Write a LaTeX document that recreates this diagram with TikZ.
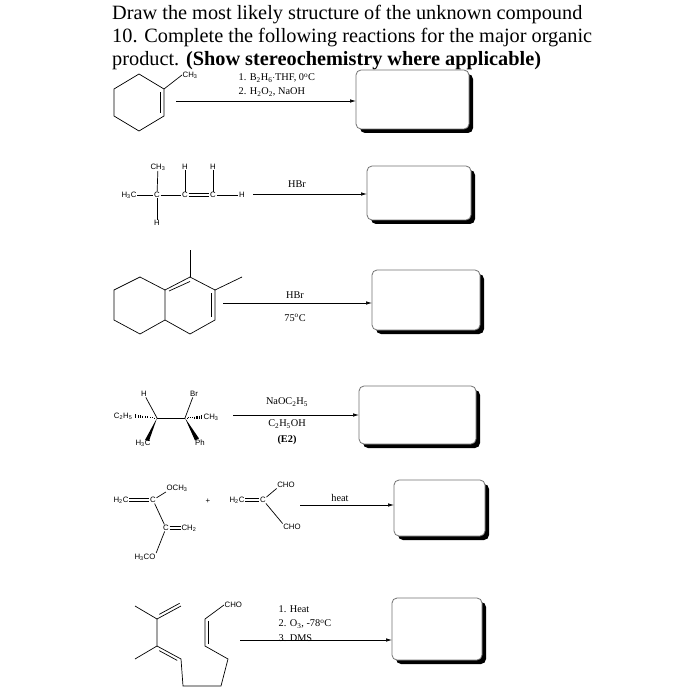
\documentclass[tikz,border=0pt]{standalone}
\usepackage{fontspec}
\setmainfont{Liberation Serif}
\setsansfont{Liberation Sans}
\usetikzlibrary{arrows.meta,calc}
\begin{document}
\begin{tikzpicture}[x=1pt,y=-1pt,
  bond/.style={line width=0.7pt},
  rxn/.style={line width=0.7pt,-{Latex[length=6pt,width=3.5pt]}},
  lab/.style={font=\sffamily\fontsize{7.8}{9}\selectfont,inner sep=0.5pt},
  reag/.style={font=\fontsize{10.3}{12}\selectfont,inner sep=0.5pt},
  ttl/.style={font=\fontsize{20.3}{23}\selectfont,anchor=base west,inner sep=0}]
\useasboundingbox (0,0) rectangle (682,700);
\fill[white] (0,0) rectangle (682,700);
\newcommand{\ansbox}[5]{%
  \fill[black,rounded corners=5pt] (#1+4,#2+4) rectangle (#3+4,#4+4);
  \draw[fill=white,draw=black!55,line width=0.8pt,rounded corners=5pt] (#1,#2) rectangle (#3,#4);
  \coordinate (#5) at (#1,{(#2+#4)/2});}
% title
\node[ttl] (t1) at (112,20) {Draw the most likely structure of the unknown compound};
\node[ttl] (t2) at (112,43) {10. Complete the following reactions for the major organic};
\node[ttl] (t3) at (112,66) {product. \textbf{(Show stereochemistry where applicable)}};
% boxes
\ansbox{356}{70}{469}{129}{b1}
\ansbox{367}{166}{471}{220}{b2}
\ansbox{372}{270}{480}{330}{b3}
\ansbox{359}{386}{476}{444}{b4}
\ansbox{394}{480}{485}{536}{b5}
\ansbox{392}{598}{482}{660}{b6}
% ---- reaction 1
\coordinate (r1a) at (139,74); \coordinate (r1b) at (164,89); \coordinate (r1c) at (164,116);
\coordinate (r1d) at (139,131); \coordinate (r1e) at (114,116); \coordinate (r1f) at (114,89);
\draw[bond] (r1a)--(r1b)--(r1c)--(r1d)--(r1e)--(r1f)--cycle;
\draw[bond] ($(r1b)+(-4,3)$)--($(r1c)+(-4,-3)$);
\node[lab,anchor=west] (m1) at (182,75) {CH\textsubscript{3}};
\draw[bond] (r1b)--(m1.west);
\coordinate (a1s) at (176,101);
\draw[rxn] (a1s)--(a1s-|b1);
\node[reag,anchor=west] (g1) at (238,78) {1. B\textsubscript{2}H\textsubscript{6}$\cdot$THF, 0\textsuperscript{o}C};
\node[reag,anchor=west] (g2) at (238,92) {2. H\textsubscript{2}O\textsubscript{2}, NaOH};
% ---- reaction 2
\node[lab] (h3c2) at (129,195) {H\textsubscript{3}C};
\node[lab] (c21) at (157,195) {C};
\node[lab] (c22) at (185,195) {C};
\node[lab] (c23) at (213,195) {C};
\node[lab] (h24) at (242,195) {H};
\node[lab] (m21) at (158,167) {CH\textsubscript{3}};
\node[lab] (h21) at (185,167) {H};
\node[lab] (h22) at (213,167) {H};
\node[lab] (h23) at (157,223) {H};
\draw[bond] (h3c2)--(c21)--(c22);
\draw[bond] ([yshift=1.5]c22.east)--([yshift=1.5]c23.west);
\draw[bond] ([yshift=-1.5]c22.east)--([yshift=-1.5]c23.west);
\draw[bond] (c23)--(h24);
\draw[bond] (c21)--(m21); \draw[bond] (c22)--(h21); \draw[bond] (c23)--(h22); \draw[bond] (c21)--(h23);
\coordinate (a2s) at (253,194);
\draw[rxn] (a2s)--(a2s-|b2);
\node[reag] (g3) at (297,184) {HBr};
% ---- reaction 3
\coordinate (p1) at (114,290); \coordinate (p2) at (140,277); \coordinate (p3) at (165,290);
\coordinate (p4) at (165,320); \coordinate (p5) at (140,334); \coordinate (p6) at (114,320);
\coordinate (q2) at (190,277); \coordinate (q3) at (215,290); \coordinate (q4) at (215,320);
\coordinate (q5) at (190,334); \coordinate (qm1) at (190,250); \coordinate (qm2) at (242,277);
\draw[bond] (p3)--(p2)--(p1)--(p6)--(p5)--(p4)--(p3)--(q2)--(q3)--(q4)--(q5)--(p4);
\draw[bond] ($(p3)+(4,1)$)--($(q2)+(0,4.5)$);
\draw[bond] ($(q3)+(-4,3)$)--($(q4)+(-4,-3)$);
\draw[bond] (q2)--(qm1); \draw[bond] (q3)--(qm2);
\coordinate (a3s) at (223,303);
\draw[rxn] (a3s)--(a3s-|b3);
\node[reag] (g4) at (295,295) {HBr};
\node[reag] (g5) at (295,318) {75\textsuperscript{o}C};
% ---- reaction 4
\coordinate (c41) at (157,418); \coordinate (c42) at (185,418);
\draw[bond] (c41)--(c42);
\node[lab] (h41) at (144,394) {H};
\node[lab] (br4) at (194,394) {Br};
\node[lab,anchor=east] (et4) at (133,416) {C\textsubscript{2}H\textsubscript{5}};
\node[lab] (me4) at (143,443) {H\textsubscript{3}C};
\node[lab,anchor=west] (me42) at (203,417) {CH\textsubscript{3}};
\node[lab] (ph4) at (200,443) {Ph};
\draw[bond] (c41)--(h41); \draw[bond] (c42)--(br4);
\foreach \t in {0.1,0.2,...,0.95}{\draw[line width=0.5pt] ($(c41)!\t!(et4.east)+(0,-2*\t)$)--($(c41)!\t!(et4.east)+(0,2*\t)$);}
\foreach \t in {0.1,0.2,...,0.95}{\draw[line width=0.5pt] ($(c42)!\t!(me42.west)+(0,-2*\t)$)--($(c42)!\t!(me42.west)+(0,2*\t)$);}
\fill (c41)--($(me4.north)+(2,1)$)--($(me4.north)+(6,2)$)--cycle;
\fill (c42)--($(ph4.north)+(-5,1)$)--($(ph4.north)+(-1,-1)$)--cycle;
\coordinate (a4s) at (233,415);
\draw[rxn] (a4s)--(a4s-|b4);
\node[reag] (g6) at (287,402) {NaOC\textsubscript{2}H\textsubscript{5}};
\node[reag] (g7) at (287,424) {C\textsubscript{2}H\textsubscript{5}OH};
\node[reag] (g8) at (287,440) {\textbf{(E2)}};
% ---- reaction 5
\node[lab] (h2c5) at (121,500) {H\textsubscript{2}C};
\node[lab] (c51) at (153,500) {C};
\node[lab] (ome1) at (177,488) {OCH\textsubscript{3}};
\node[lab] (c52) at (166,528) {C};
\node[lab] (ch25) at (189,528) {CH\textsubscript{2}};
\node[lab] (ome2) at (145,557) {H\textsubscript{3}CO};
\draw[bond] ([yshift=1.5]h2c5.east)--([yshift=1.5]c51.west);
\draw[bond] ([yshift=-1.5]h2c5.east)--([yshift=-1.5]c51.west);
\draw[bond] (c51)--(ome1.south west);
\draw[bond] (c51)--(c52);
\draw[bond] ([yshift=1.5]c52.east)--([yshift=1.5]ch25.west);
\draw[bond] ([yshift=-1.5]c52.east)--([yshift=-1.5]ch25.west);
\draw[bond] (c52)--(ome2.north east);
\node[lab] (plus) at (208,501) {+};
\node[lab] (h2c6) at (237,500) {H\textsubscript{2}C};
\node[lab] (c61) at (263,500) {C};
\node[lab] (cho1) at (286,485) {CHO};
\node[lab] (cho2) at (292,527) {CHO};
\draw[bond] ([yshift=1.5]h2c6.east)--([yshift=1.5]c61.west);
\draw[bond] ([yshift=-1.5]h2c6.east)--([yshift=-1.5]c61.west);
\draw[bond] (c61)--(cho1.south west); \draw[bond] (c61)--(cho2.north west);
\coordinate (a5s) at (300,505);
\draw[rxn] (a5s)--(a5s-|b5);
\node[reag] (g9) at (340,498) {heat};
% ---- reaction 6
\coordinate (s1) at (135,606); \coordinate (s2) at (157,619); \coordinate (s3) at (181,606);
\coordinate (s4) at (157,646); \coordinate (s5) at (135,659); \coordinate (s6) at (181,659);
\coordinate (s7) at (183,686); \coordinate (s8) at (221,686); \coordinate (s9) at (228,659);
\coordinate (s10) at (205,646); \coordinate (s11) at (205,619);
\node[lab,anchor=west] (cho6) at (224,605) {CHO};
\draw[bond] (s1)--(s2)--(s3);
\draw[bond] ($(s2)!0.15!(s3)+(-1.4,-2.7)$)--($(s3)+(-1.4,-2.7)$);
\draw[bond] (s2)--(s4)--(s5); \draw[bond] (s4)--(s6)--(s7)--(s8)--(s9)--(s10)--(s11)--(cho6.west);
\draw[bond] ($(s4)!0.15!(s6)+(-1.4,2.7)$)--($(s6)!0.1!(s4)+(-1.4,2.7)$);
\draw[bond] ($(s10)+(3.5,-2)$)--($(s11)+(3.5,2)$);
\coordinate (a6s) at (240,640);
\draw[rxn] (a6s)--(a6s-|b6);
\node[reag,anchor=west] (g10) at (278,609) {1. Heat};
\node[reag,anchor=west] (g11) at (278,624) {2. O\textsubscript{3}, -78\textsuperscript{o}C};
\node[reag,anchor=west] (g12) at (278,638) {3. DMS};
\end{tikzpicture}
\end{document}
